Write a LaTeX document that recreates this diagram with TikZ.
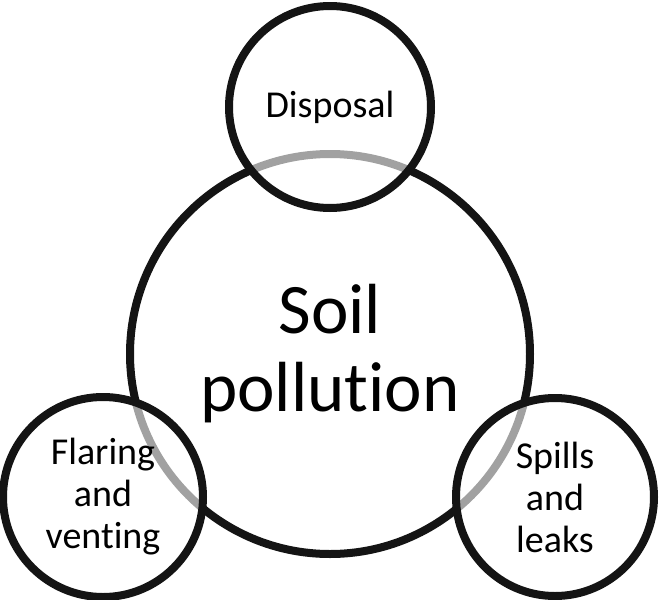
\documentclass[tikz,border=0pt]{standalone}
\usepackage{fontspec}
\setmainfont{Carlito}[Ligatures=NoCommon]
\usepackage{tikz}
\usetikzlibrary{positioning}
\definecolor{ink}{RGB}{20,20,20}

\begin{document}
\begin{tikzpicture}[x=1pt,y=-1pt,
    bubble/.style={circle,draw=ink,line width=8pt,inner sep=0pt,align=center},
    small/.style={bubble,fill=white,fill opacity=0.6,text opacity=1,font=\fontsize{38}{42}\selectfont}]
  \useasboundingbox (0,0) rectangle (659,600);
  \node[bubble,minimum size=400pt,font=\fontsize{71}{78}\selectfont] (soil) at (330,354) {Soil\\pollution};
  \node[small,minimum size=202pt] (disp) at (330,107) {Disposal};
  \node[small,minimum size=200pt] (flare) at (103,497) {Flaring\\and\\venting};
  \node[small,minimum size=198pt] (spill) at (555,497) {Spills\\and\\leaks};
\end{tikzpicture}
\end{document}
